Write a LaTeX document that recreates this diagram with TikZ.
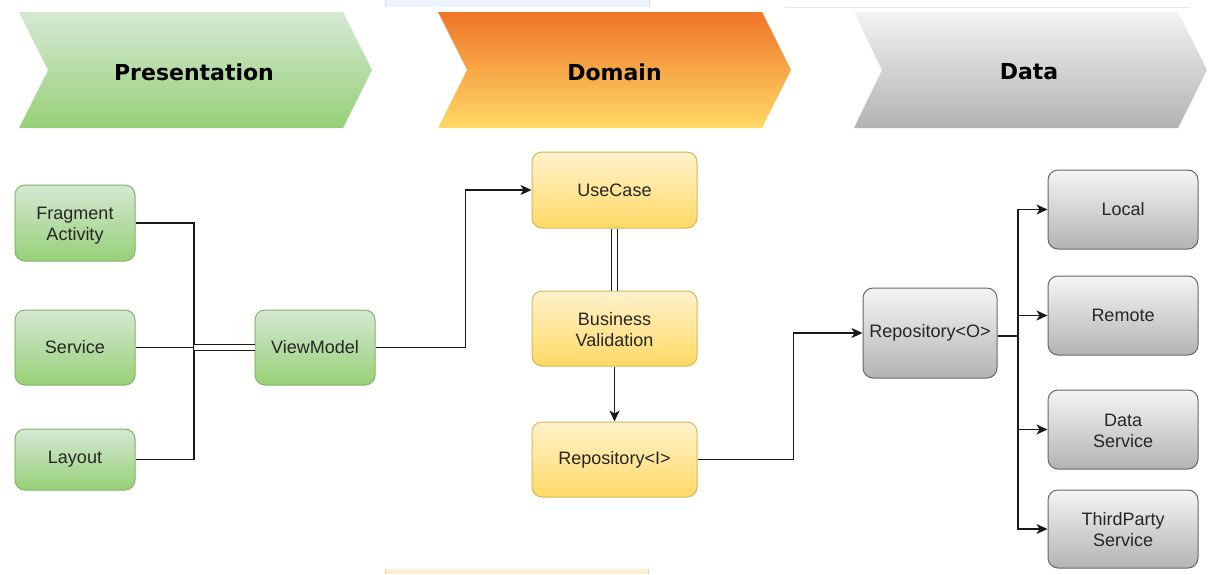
\documentclass[tikz,border=0pt]{standalone}
\usepackage{fontspec}
\setmainfont{Liberation Sans}
\newfontfamily\bannerfont{DejaVu Sans}
\usetikzlibrary{arrows.meta}
\definecolor{gTop}{HTML}{D5E8D4}
\definecolor{gBot}{HTML}{97D077}
\definecolor{gLine}{HTML}{82B366}
\definecolor{yTop}{HTML}{FFF2CC}
\definecolor{yBot}{HTML}{FFD966}
\definecolor{yLine}{HTML}{D6B656}
\definecolor{sTop}{HTML}{F5F5F5}
\definecolor{sBot}{HTML}{B3B3B3}
\definecolor{sLine}{HTML}{666666}
\definecolor{oTop}{HTML}{F07528}
\definecolor{oBot}{HTML}{FFD966}
\definecolor{dTop}{HTML}{F2F2F2}
\definecolor{dBot}{HTML}{B3B3B3}
\definecolor{blueBand}{HTML}{EEF4FD}
\definecolor{blueEdge}{HTML}{D5D9E0}
\definecolor{orBand}{HTML}{FCEFCF}
\definecolor{orEdge}{HTML}{E3D4AE}
\definecolor{thinGray}{HTML}{E6E6E6}
\newcommand{\twoln}[2]{\raisebox{-3pt}[\height][\depth]{\begin{tabular}{@{}c@{}}#1\\#2\end{tabular}}}
\tikzset{
  box/.style={rounded corners=10pt, line width=1pt, align=center, inner sep=2pt,
    font=\fontsize{18}{21}\selectfont, text=black!85},
  gbox/.style={box, draw=gLine, top color=gTop, bottom color=gBot},
  ybox/.style={box, draw=yLine, top color=yTop, bottom color=yBot},
  sbox/.style={box, draw=sLine, top color=sTop, bottom color=sBot},
  conn/.style={line width=1.3pt, black!90},
  arr/.style={conn, -{Stealth[length=11pt,width=10pt,inset=3pt]}},
  link/.style={line width=1pt, black!90, double=white, double distance=4.5pt},
  bannertext/.style={font=\bannerfont\bfseries\fontsize{22}{26}\selectfont, text=black}
}
\begin{document}
\begin{tikzpicture}[x=1pt,y=-1pt]
\useasboundingbox (0,0) rectangle (1217,574);
% stray page fragments
\fill[blueBand] (385,0) rectangle (649,7);
\draw[blueEdge, line width=0.8pt] (385,0) -- (385,7) (649,0) -- (649,7);
\draw[thinGray, line width=0.8pt] (785,7) -- (1190,7);
\fill[orBand] (385,569) rectangle (648,574);
\draw[orEdge, line width=0.8pt] (385,569) -- (385,574) (648,569) -- (648,574);
% banners
\shade[top color=gTop, bottom color=gBot] (19,12) -- (343,12) -- (372,70) -- (343,128) -- (19,128) -- (48,70) -- cycle;
\node[bannertext] (tPres) at (194,72) {Presentation};
\shade[top color=oTop, bottom color=oBot] (438,12) -- (762,12) -- (791,70) -- (762,128) -- (438,128) -- (467,70) -- cycle;
\node[bannertext] (tDom) at (614.5,72) {Domain};
\shade[top color=dTop, bottom color=dBot] (854,12) -- (1178,12) -- (1207,70) -- (1178,128) -- (854,128) -- (882,70) -- cycle;
\node[bannertext] (tData) at (1029,72) {Data};
% presentation nodes
\node[gbox, minimum width=120pt, minimum height=76pt] (frag) at (75,223) {\twoln{Fragment}{Activity}};
\node[gbox, minimum width=120pt, minimum height=75pt] (serv) at (75,347.5) {Service};
\node[gbox, minimum width=120pt, minimum height=61pt] (lay) at (75,459.5) {Layout};
\node[gbox, minimum width=120pt, minimum height=75pt] (vm) at (315,347.5) {ViewModel};
% domain nodes
\node[ybox, minimum width=165pt, minimum height=76pt] (uc) at (614.5,190) {UseCase};
\node[ybox, minimum width=165pt, minimum height=75pt] (bv) at (614.5,328.5) {\twoln{Business}{Validation}};
\node[ybox, minimum width=165pt, minimum height=75pt] (ri) at (614.5,459.5) {Repository<I>};
% data nodes
\node[sbox, minimum width=134pt, minimum height=90pt] (ro) at (930,333) {Repository<O>};
\node[sbox, minimum width=150pt, minimum height=79pt] (loc) at (1123,209.5) {Local};
\node[sbox, minimum width=150pt, minimum height=79pt] (rem) at (1123,315.5) {Remote};
\node[sbox, minimum width=150pt, minimum height=79pt] (ds) at (1123,429.5) {\twoln{Data}{Service}};
\node[sbox, minimum width=150pt, minimum height=78pt] (tp) at (1123,529) {\twoln{ThirdParty}{Service}};
% connectors
\coordinate (bus) at (194,347.5);
\coordinate (bus2) at (1018,336);
\draw[conn] (frag.east) -| (bus) |- (lay.east);
\draw[conn] (serv.east) -- (bus);
\draw[link] (bus) -- (vm.west);
\draw[arr] (vm.east) -- ++(90,0) |- (uc.west);
\draw[link] (uc.south) -- (bv.north);
\draw[arr] (bv.south) -- (ri.north);
\draw[arr] (ri.east) -- ++(96,0) |- (ro.west);
\draw[conn] (ro.east |- bus2) -- (bus2);
\draw[arr] (bus2) |- (loc.west);
\draw[arr] (bus2) |- (rem.west);
\draw[arr] (bus2) |- (ds.west);
\draw[arr] (bus2) |- (tp.west);
\end{tikzpicture}
\end{document}
